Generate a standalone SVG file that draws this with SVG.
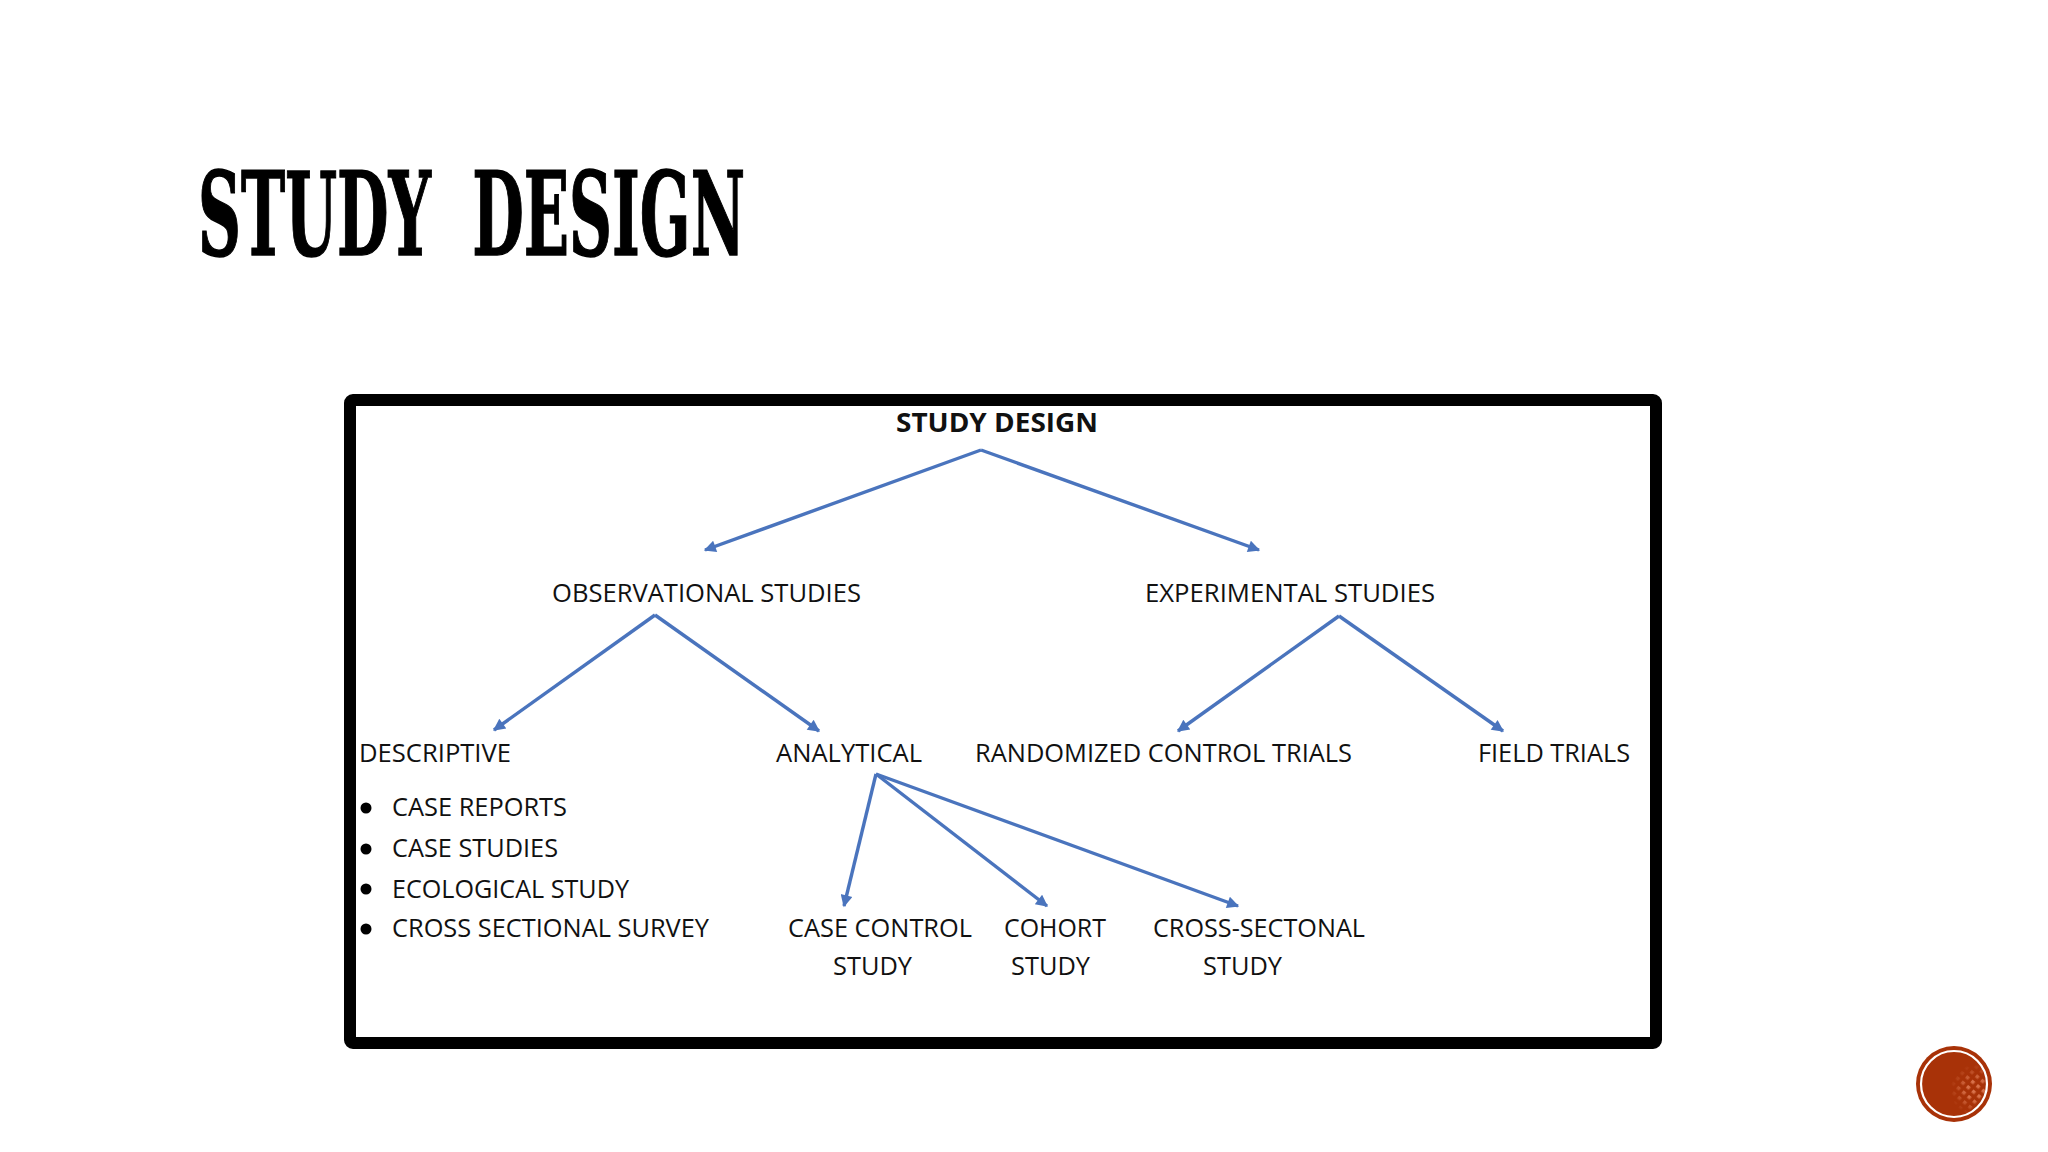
<svg xmlns="http://www.w3.org/2000/svg" width="2048" height="1152" viewBox="0 0 2048 1152">
<style>
.t{font-family:"Open Sans","Liberation Sans",sans-serif;font-size:26px;fill:#111}
.b{font-weight:700}
.title{font-family:"DejaVu Serif","Liberation Serif",serif;font-weight:700;font-size:116px;fill:#000;stroke:#000;stroke-width:1.5;word-spacing:40px}
.c{stroke:#4a74bd;stroke-width:3.4;fill:none;marker-end:url(#a)}
</style>
<defs>
<marker id="a" viewBox="0 0 10 10" refX="9" refY="5" markerWidth="15" markerHeight="12" markerUnits="userSpaceOnUse" orient="auto"><path d="M0 0L10 5L0 10z" fill="#4a74bd"/></marker>
<pattern id="p" width="7" height="7" patternUnits="userSpaceOnUse" patternTransform="rotate(40)"><rect width="3.5" height="3.5" fill="#d8714a"/></pattern>
<radialGradient id="m" cx="0.5" cy="0.5" r="0.5"><stop offset="0.35" stop-color="#fff"/><stop offset="1" stop-color="#000"/></radialGradient>
<mask id="mk"><circle cx="1976" cy="1090" r="26" fill="url(#m)"/></mask>
<clipPath id="cc"><circle cx="1954" cy="1084" r="32"/></clipPath>
</defs>
<rect width="2048" height="1152" fill="#fff"/>
<text id="title" class="title" x="198" y="255" textLength="547" lengthAdjust="spacingAndGlyphs">STUDY DESIGN</text>
<rect id="frame" x="350" y="400" width="1306" height="643" rx="3" fill="#fff" stroke="#000" stroke-width="12"/>
<g id="connectors">
<path class="c" d="M981 450L705 550"/>
<path class="c" d="M981 450L1259 550"/>
<path class="c" d="M655 615L494 730"/>
<path class="c" d="M655 615L819 731"/>
<path class="c" d="M1339 616L1178 731"/>
<path class="c" d="M1339 616L1503 731"/>
<path class="c" d="M876 774L844 906"/>
<path class="c" d="M876 774L1047 906"/>
<path class="c" d="M876 774L1238 906"/>
</g>
<g id="n-root"><text class="t b" x="896" y="432" textLength="202" lengthAdjust="spacingAndGlyphs">STUDY DESIGN</text></g>
<g id="n-observational"><text class="t" x="552" y="602" textLength="309" lengthAdjust="spacingAndGlyphs">OBSERVATIONAL STUDIES</text></g>
<g id="n-experimental"><text class="t" x="1145" y="602" textLength="290" lengthAdjust="spacingAndGlyphs">EXPERIMENTAL STUDIES</text></g>
<g id="n-descriptive">
<text class="t" x="359" y="762" textLength="152" lengthAdjust="spacingAndGlyphs">DESCRIPTIVE</text>
<circle cx="366" cy="808" r="5.5" fill="#000"/><circle cx="366" cy="849" r="5.5" fill="#000"/><circle cx="366" cy="889" r="5.5" fill="#000"/><circle cx="366" cy="929" r="5.5" fill="#000"/>
<text class="t" x="392" y="816" textLength="175" lengthAdjust="spacingAndGlyphs">CASE REPORTS</text>
<text class="t" x="392" y="857" textLength="166" lengthAdjust="spacingAndGlyphs">CASE STUDIES</text>
<text class="t" x="392" y="898" textLength="237" lengthAdjust="spacingAndGlyphs">ECOLOGICAL STUDY</text>
<text class="t" x="392" y="937" textLength="317" lengthAdjust="spacingAndGlyphs">CROSS SECTIONAL SURVEY</text>
</g>
<g id="n-analytical"><text class="t" x="776" y="762" textLength="146" lengthAdjust="spacingAndGlyphs">ANALYTICAL</text></g>
<g id="n-rct"><text class="t" x="975" y="762" textLength="377" lengthAdjust="spacingAndGlyphs">RANDOMIZED CONTROL TRIALS</text></g>
<g id="n-field"><text class="t" x="1478" y="762" textLength="152" lengthAdjust="spacingAndGlyphs">FIELD TRIALS</text></g>
<g id="n-casecontrol">
<text class="t" x="788" y="937" textLength="184" lengthAdjust="spacingAndGlyphs">CASE CONTROL</text>
<text class="t" x="833" y="975" textLength="79" lengthAdjust="spacingAndGlyphs">STUDY</text>
</g>
<g id="n-cohort">
<text class="t" x="1004" y="937" textLength="102" lengthAdjust="spacingAndGlyphs">COHORT</text>
<text class="t" x="1011" y="975" textLength="79" lengthAdjust="spacingAndGlyphs">STUDY</text>
</g>
<g id="n-crosssectional">
<text class="t" x="1153" y="937" textLength="212" lengthAdjust="spacingAndGlyphs">CROSS-SECTONAL</text>
<text class="t" x="1203" y="975" textLength="79" lengthAdjust="spacingAndGlyphs">STUDY</text>
</g>
<g id="badge">
<circle cx="1954" cy="1084" r="38" fill="#a83208"/>
<g clip-path="url(#cc)"><rect x="1950" y="1060" width="40" height="54" fill="url(#p)" mask="url(#mk)"/></g>
<circle cx="1954" cy="1084" r="33" fill="none" stroke="#fff" stroke-width="2.2"/>
</g>
</svg>
